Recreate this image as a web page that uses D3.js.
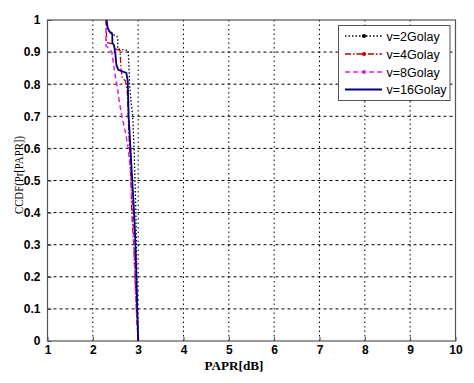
<!DOCTYPE html>
<html><head><meta charset="utf-8">
<script src="https://cdn.jsdelivr.net/npm/d3@7"></script>
<style>body{margin:0;background:#fff}svg{display:block}</style>
</head><body>
<script>
const xTicks = [1,2,3,4,5,6,7,8,9,10];
const yTicks = [0,0.1,0.2,0.3,0.4,0.5,0.6,0.7,0.8,0.9,1];
const seriesNames = ["v=2Golay","v=4Golay","v=8Golay","v=16Golay"];
const v2 = [[2.30,1.0],[2.33,0.97],[2.40,0.965],[2.45,0.955],[2.53,0.95],[2.55,0.94],[2.55,0.91],[2.78,0.905],[2.80,0.85],[2.81,0.80],[2.84,0.75],[2.88,0.70],[2.91,0.60],[2.93,0.50],[2.95,0.40],[2.96,0.30],[2.97,0.20],[2.98,0.10],[3.00,0.0]];
const v4 = [[2.30,1.0],[2.30,0.93],[2.45,0.925],[2.50,0.91],[2.60,0.905],[2.62,0.85],[2.65,0.82],[2.72,0.81],[2.76,0.78],[2.78,0.70],[2.81,0.60],[2.84,0.50],[2.86,0.40],[2.90,0.30],[2.93,0.20],[2.96,0.10],[3.00,0.0]];
const v8 = [[2.29,1.0],[2.29,0.92],[2.36,0.91],[2.42,0.90],[2.46,0.86],[2.50,0.82],[2.53,0.80],[2.58,0.75],[2.64,0.70],[2.72,0.65],[2.78,0.60],[2.84,0.52],[2.86,0.45],[2.89,0.39],[2.91,0.30],[2.93,0.20],[2.96,0.10],[2.98,0.05],[3.00,0.0]];
const v16 = [[2.30,1.0],[2.33,0.975],[2.36,0.965],[2.43,0.955],[2.43,0.93],[2.47,0.92],[2.50,0.89],[2.52,0.86],[2.56,0.845],[2.74,0.835],[2.77,0.81],[2.79,0.70],[2.83,0.60],[2.87,0.50],[2.91,0.40],[2.94,0.30],[2.96,0.20],[2.98,0.10],[3.00,0.0]];

const W=474,H=383;
const L=47.5,R=455.5,T=20,B=341;
const svg=d3.select("body").append("svg").attr("width",W).attr("height",H);
const x=d3.scaleLinear().domain([1,10]).range([L,R]);
const y=d3.scaleLinear().domain([0,1]).range([B,T]);

// grid
const g=svg.append("g");
g.selectAll(".gx").data(xTicks.slice(1,-1)).enter().append("line")
 .attr("x1",d=>x(d)).attr("x2",d=>x(d)).attr("y1",T).attr("y2",B)
 .attr("stroke","#000").attr("stroke-width",1).attr("stroke-dasharray","1.5,3");
g.selectAll(".gy").data(yTicks.slice(1,-1)).enter().append("line")
 .attr("y1",d=>y(d)).attr("y2",d=>y(d)).attr("x1",L).attr("x2",R)
 .attr("stroke","#000").attr("stroke-width",1).attr("stroke-dasharray","3,3");

// axes
const fmt=d=>d===0?"0":(d===1?"1":d3.format(".1f")(d));
const xa=svg.append("g").attr("transform",`translate(0,${B})`)
 .call(d3.axisBottom(x).tickValues(xTicks).tickSize(-4).tickPadding(4.5).tickFormat(d3.format("d")));
const ya=svg.append("g").attr("transform",`translate(${L},0)`)
 .call(d3.axisLeft(y).tickValues(yTicks).tickSize(-4).tickPadding(7).tickFormat(fmt));
[xa,ya].forEach(a=>{
 a.select(".domain").remove();
 a.selectAll("line").attr("stroke","#444");
 a.selectAll("text").attr("font-family","Liberation Sans, Arial, sans-serif").attr("font-weight","bold").attr("font-size","12px").attr("fill","#000");
});
// box
svg.append("rect").attr("x",L).attr("y",T).attr("width",R-L).attr("height",B-T)
 .attr("fill","none").attr("stroke","#555").attr("stroke-width",1.2);

// labels
svg.append("text").attr("x",234).attr("y",370).attr("text-anchor","middle")
 .attr("font-family","Liberation Serif, Times New Roman, serif").attr("font-weight","bold").attr("font-size","12.5px")
 .attr("textLength",59).attr("lengthAdjust","spacingAndGlyphs").text("PAPR[dB]");
svg.append("text").attr("transform",`translate(22.5,175) rotate(-90)`).attr("text-anchor","middle")
 .attr("font-family","Liberation Serif, Times New Roman, serif").attr("font-size","13px")
 .attr("textLength",78).attr("lengthAdjust","spacingAndGlyphs").text("CCDF(Pr[PAPR])");

// series
const styles=[
 {data:v2,color:"#000",dash:"1.5,2",w:1.3},
 {data:v4,color:"#c00000",dash:"6,2,1.5,2",w:1.3},
 {data:v8,color:"#e020e0",dash:"5,3",w:1.5},
 {data:v16,color:"#000080",dash:null,w:1.8}
];
const line=d3.line().x(d=>x(d[0])).y(d=>y(d[1]));
styles.forEach(s=>{
 svg.append("path").datum(s.data).attr("d",line).attr("fill","none")
  .attr("stroke",s.color).attr("stroke-width",s.w).attr("stroke-dasharray",s.dash);
});

// legend
const lg=svg.append("g");
lg.append("rect").attr("x",338.5).attr("y",25.5).attr("width",111.5).attr("height",75)
 .attr("fill","#fff").attr("stroke","#555").attr("stroke-width",1);
const ly=[36,54,72,89.5];
styles.forEach((s,i)=>{
 lg.append("line").attr("x1",345).attr("x2",382).attr("y1",ly[i]).attr("y2",ly[i])
  .attr("stroke",s.color).attr("stroke-width",s.w).attr("stroke-dasharray",s.dash);
 if(i<3) lg.append("circle").attr("cx",364).attr("cy",ly[i]).attr("r",2).attr("fill",s.color);
 lg.append("text").attr("x",386.5).attr("y",ly[i]+4.5).attr("font-family","Liberation Sans, Arial, sans-serif")
  .attr("font-size","12.5px").text(seriesNames[i]);
});
</script>
</body></html>
